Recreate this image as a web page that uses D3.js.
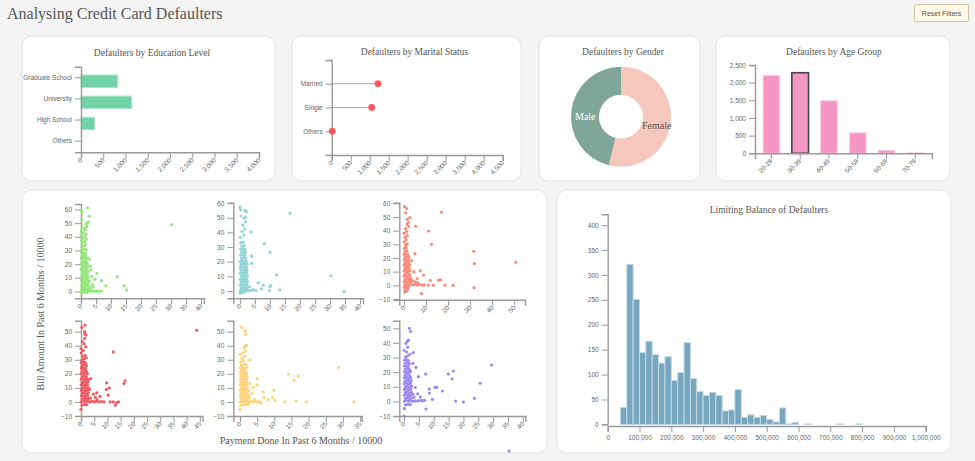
<!DOCTYPE html>
<html>
<head>
<meta charset="utf-8">
<script src="https://cdn.jsdelivr.net/npm/d3@7"></script>
<style>
  body { margin: 0; background: #f4f4f4; font-family: "Liberation Sans", Arial, sans-serif; }
  #wrap { position: relative; width: 975px; height: 461px; overflow: hidden; }
  #reset { position: absolute; left: 914px; top: 4px; width: 55px; height: 18px; padding: 0;
           background: #fffbe8; border: 1px solid #cdc4a6; border-radius: 2px;
           font: 7px "Liberation Sans", Arial, sans-serif; color: #555; }
  .axis .domain { stroke: #999; stroke-width: 1.4; }
  .axis .tick line { stroke: #999; }
  .axis text { fill: #666; font-size: 6.5px; font-family: "Liberation Sans", Arial, sans-serif; }
  .title { font-family: "Liberation Serif", "Times New Roman", serif; fill: #555; font-size: 9.5px; text-anchor: middle; }
</style>
</head>
<body>
<div id="wrap">
  <div id="chart"></div>
  <button id="reset">Reset Filters</button>
</div>
<script>
// ---- data ----
const eduLevels = ["Graduate School", "University", "High School", "Others"];
const eduCounts = [825, 1139, 308, 0];

const maritalStatus = ["Married", "Single", "Others"];
const maritalCounts = [1218, 1052, 15];

const genderLabels = ["Female", "Male"];
const genderCounts = [1226, 1046];

const ageGroups = ["20-29", "30-39", "40-49", "50-59", "60-69", "70-79"];
const ageCounts = [2208, 2282, 1489, 583, 85, 15];
const selectedAge = "30-39";

// limiting balance histogram, 20,000 wide bins
const limitBinStart = [40000, 60000, 80000, 100000, 120000, 140000, 160000, 180000, 200000, 220000,
  240000, 260000, 280000, 300000, 320000, 340000, 360000, 380000, 400000, 420000,
  440000, 460000, 480000, 500000, 520000, 540000, 560000, 580000, 600000, 620000,
  640000, 660000, 680000, 700000, 720000, 740000, 760000, 780000];
const limitCounts = [34, 321, 251, 144, 167, 140, 123, 136, 88, 104,
  164, 92, 66, 58, 64, 58, 27, 29, 70, 14,
  19, 14, 18, 10, 5, 33, 1, 4, 0, 1,
  0, 0, 0, 0, 1, 0, 0, 1];

// payment (x) vs bill amount (y), both / 10000
const scatterGreen = [[0.2,-1],[1.1,-0.6],[2,-0.9],
  [0.1,0.4],[0.7,0.9],[1.4,0.2],[2.1,0.6],[2.8,0.3],[3.5,0.5],[4.2,0.2],[5.1,0.4],[5.9,0.1],[6.8,0.3],
  [0.4,2.1],[1,2.6],[1.7,1.9],[2.3,2.4],[3.1,1.6],
  [0.2,4.2],[0.9,4.6],[1.5,3.9],[2.2,4.4],[2.9,3.6],[4,3.1],
  [0.5,6.1],[1.1,6.5],[1.8,5.8],[2.4,6.3],
  [0.1,8.2],[0.8,8.5],[1.4,7.9],[2.1,8.3],[2.8,7.4],
  [0.4,10.1],[1,10.6],[1.7,9.8],[2.3,10.4],
  [0.2,12.3],[0.8,12.6],[1.5,11.9],[2.1,12.2],
  [0.5,14.1],[1.1,14.6],[1.8,13.8],[2.4,14.4],
  [0.1,16.2],[0.8,16.5],[1.4,15.9],[2,16.3],
  [0.4,18.1],[1,18.6],[1.7,17.8],[2.3,18.4],
  [0.2,20.3],[0.9,20.6],[1.5,19.8],[2.1,20.2],
  [0.5,22.1],[1.1,22.5],[1.8,21.8],
  [0.1,24.2],[0.8,24.6],[1.4,23.9],[2.2,24.3],
  [0.4,26.1],[1,26.6],[1.6,25.8],
  [0.2,28.2],[0.9,28.5],[1.5,27.7],
  [0.3,30.1],[1.2,31],[1.7,30.4],[0.2,32.6],[1,33.5],[1.5,34.2],[0.4,35.6],[1.2,36.4],[0.1,37.6],[1.8,38.1],
  [0.6,39],[1.3,40.1],[0.2,41.2],[1.7,42],[0.8,43.1],[0.1,44.2],[1.5,45.1],[1,46.4],[1.9,47.5],[0.2,48.1],
  [1.7,49.5],[2.2,50.1],[2.5,51],[0.2,52.2],[2.7,55],[0.3,58.4],[0.1,59.1],[2.2,61.2],
  [3.3,15.7],[4.7,8.9],[5.3,13.3],[6.9,7.9],[8.3,4.2],[12.1,10.8],[14.4,4.2],[15.2,1.1],[30.2,48.9],
  [3.1,18.3],[3.8,5.2],[2.8,23.6],[3.6,11]];

const scatterTeal = [[0.1,-1.5],[0.9,-1],[1.8,-0.7],
  [0.2,0.3],[0.8,0.8],[1.5,0.1],[2.2,0.6],[2.9,0.2],[3.6,0.5],[4.4,0.7],
  [0.4,2.2],[1.1,2.6],[1.8,1.9],[2.5,2.3],
  [0.1,4.1],[0.8,4.5],[1.5,3.8],[2.2,4.3],
  [0.4,6.2],[1.1,6.6],[1.8,5.9],[2.5,6.4],
  [0.1,8.1],[0.8,8.6],[1.5,7.8],[2.2,8.3],
  [0.4,10.2],[1.1,10.5],[1.8,9.9],[2.5,10.3],
  [0.1,12.1],[0.8,12.6],[1.5,11.8],[2.2,12.4],
  [0.4,14.2],[1.1,14.5],[1.8,13.9],[2.4,14.3],
  [0.1,16.1],[0.8,16.6],[1.5,15.8],[2.2,16.2],
  [0.4,18.2],[1.1,18.5],[1.8,17.9],[2.4,18.4],
  [0.1,20.1],[0.8,20.6],[1.5,19.8],[2.1,20.2],
  [0.5,22.3],[1.2,22.7],[1.9,21.9],
  [0.2,24.4],[0.9,24.8],[1.6,24.1],
  [0.5,26.5],[1.3,26.9],[1.9,26.2],
  [0.2,28.6],[1,29],[1.7,28.3],
  [0.6,30.7],[1.4,31.2],[0.3,32.8],[1.1,33.4],
  [0.2,36.5],[1.3,38.2],[0.7,40.6],[1.6,42.3],[1,44.8],[1.9,47.2],[1.5,49.6],[1.8,50.4],[0.4,51.2],
  [0,57.3],[0.2,55.4],[1.7,55],[2.1,54.2],
  [16.7,53.2],[8.1,32.4],[10,26.5],[3.7,40.3],[3.9,23.8],[3.9,18.8],[12.2,10.9],[30.3,10.4],[34.7,-0.5],
  [13.3,0.7],[10,2.9],[7.8,3.9],[6.1,5.6],[7.2,1.5],[4.4,0.7],[2.3,5],[10.3,3.6],[5.4,0.3],[3.2,2.9],[9.8,0.2]];

const scatterSalmon = [[0.3,-4.9],[1.4,-4.2],[0.6,-3],[1.8,-2.6],
  [0.1,-1.2],[1,-0.8],[2,-1.1],
  [0.4,0.6],[1.3,1],[2.2,0.4],[3.1,0.8],[4,0.3],[5,0.6],[6,0.2],[7.1,0.5],[8.2,0.1],[9.2,0.4],
  [0.1,2.6],[1,3],[1.9,2.3],[2.8,2.7],[3.9,3.2],
  [0.5,4.6],[1.4,5.1],[2.3,4.4],[3.2,4.8],
  [0.1,6.7],[1,7.1],[1.9,6.4],[2.8,6.9],
  [0.5,8.6],[1.4,9.1],[2.3,8.4],
  [0.1,10.7],[1,11.1],[1.9,10.4],[2.7,10.8],
  [0.5,12.6],[1.4,13.1],[2.3,12.4],
  [0.1,14.7],[1,15.1],[1.9,14.4],[2.6,14.8],
  [0.5,16.6],[1.4,17.1],[2.2,16.4],
  [0.1,18.7],[1,19.1],[1.9,18.4],
  [0.5,20.6],[1.4,21.1],[2.2,20.4],
  [0.1,22.7],[1,23.1],[1.8,22.4],
  [0.5,24.6],[1.4,25.1],
  [0.2,26.8],[1.1,27.4],[0.6,29.2],[1.5,30.1],[0.2,31.8],[1,33.2],[0.5,35.1],[1.6,36.4],[0.1,38],[1.2,39.3],
  [0.7,41.5],[2.1,43],[1.4,44.6],[2,46],[2.7,49.5],[1.5,48.3],[1.2,56.1],[0.3,57.5],[0.8,53],
  [17,53.4],[11.2,39.7],[5.3,43.2],[12.5,30],[5,23.2],[50.7,16.8],[31.7,24.9],[32,15.9],[31.8,-1.7],
  [7.4,10.5],[8,-6.1],[8.9,7.5],[13.3,0],[15.7,3.7],[16.6,4.1],[18.6,0],[22.3,0],[12,3.7],[11,0.2],
  [4.5,10],[6,5],[5.2,2.5],[3.5,18],[6.3,1.8]];

const scatterRed = [[0,-5.2],[0.4,-2.3],[1.3,-1.8],[2.2,-2],
  [0.1,0.1],[0.9,0.6],[1.7,0.2],[2.5,0.5],[3.3,0.1],[4.2,0.4],[5.1,0.2],[6,0.5],[6.9,0.1],[7.8,0.3],[8.7,0.1],
  [0.4,2.1],[1.2,2.6],[2,1.9],[2.8,2.3],[3.6,2.8],
  [0.1,4.2],[0.9,4.6],[1.7,3.9],[2.5,4.3],
  [0.4,6.1],[1.2,6.5],[2,5.8],[2.8,6.3],
  [0.1,8.2],[0.9,8.6],[1.7,7.9],[2.5,8.3],
  [0.4,10.1],[1.2,10.6],[2,9.8],[2.7,10.2],
  [0.1,12.2],[0.9,12.5],[1.7,11.9],[2.4,12.3],
  [0.4,14.1],[1.2,14.6],[2,13.8],[2.6,14.2],
  [0.1,16.2],[0.9,16.5],[1.7,15.9],[2.4,16.3],
  [0.4,18.1],[1.2,18.6],[2,17.8],
  [0.1,20.2],[0.9,20.5],[1.7,19.9],[2.4,20.3],
  [0.4,22.1],[1.2,22.6],[2,21.8],
  [0.1,24.2],[0.9,24.5],[1.7,23.9],
  [0.4,26.1],[1.2,26.6],[2,25.8],
  [0.1,28.2],[0.9,28.5],[1.7,27.9],
  [0.4,30.1],[1.3,30.8],[2,31.4],[0.6,32.5],[1.5,33.2],[0.1,34.8],[0.9,36.6],[0,38],[1.8,39.2],[1.2,41.3],
  [0.5,43],[1.4,45.2],[1.9,47.6],[1.5,48.2],[1.4,50],[0.3,53],[1.5,54.6],
  [43.8,51],[12.2,35.6],[16.7,15],[16.3,13.1],[9.7,13.5],[9.6,9],[10.7,10],[10.3,4.8],[3.7,16.6],[2.8,15.8],
  [4.7,5.5],[6,6.5],[7.2,4],[6.1,1.6],[11,0],[12.2,0],[13,-2.4],[13.5,-0.5],[14.2,0],[3.3,8.9],[5.4,3.2]];

const scatterYellow = [[0,-5.4],[0.3,-2.4],[1,-1.8],[1.7,-2.1],[2.4,-1.5],
  [0.1,0.1],[0.7,0.6],[1.3,0.2],[1.9,0.5],[2.5,0.1],[3.2,0.4],[3.9,0.2],[4.6,0.5],[5.4,0],[6.2,-0.7],[7,3.1],
  [0.3,2.1],[0.9,2.6],[1.5,1.9],[2.1,2.3],[2.8,2.8],
  [0.1,4.2],[0.7,4.6],[1.3,3.9],[1.9,4.3],[2.5,4.7],
  [0.3,6.1],[0.9,6.5],[1.5,5.8],[2.1,6.3],
  [0.1,8.2],[0.7,8.6],[1.3,7.9],[1.9,8.3],[2.5,8],
  [0.3,10.1],[0.9,10.6],[1.5,9.8],[2.1,10.2],
  [0.1,12.2],[0.7,12.5],[1.3,11.9],[1.9,12.3],
  [0.3,14.1],[0.9,14.6],[1.5,13.8],[2.1,14.2],
  [0.1,16.2],[0.7,16.5],[1.3,15.9],[1.9,16.3],
  [0.3,18.1],[0.9,18.6],[1.5,17.8],[2.1,18.2],
  [0.1,20.2],[0.7,20.5],[1.3,19.9],[1.9,20.3],
  [0.3,22.1],[0.9,22.6],[1.5,21.8],
  [0.1,24.2],[0.7,24.5],[1.3,23.9],[1.9,24.6],
  [0.4,26.3],[1.1,27],[1.7,26.5],[0.2,28.6],[1,29.3],[2.9,29.7],[0.6,31],[1.4,32.4],[0.1,33.8],[0.9,35],
  [1.6,36.2],[1.2,38.4],[1.9,40.3],[1.5,39.6],[1.6,48.1],[1.5,50.5],[0.5,53],
  [2.9,13],[5,16.6],[5,11.9],[3.8,10.2],[6.8,7.1],[9.9,8.3],[9.5,3.1],[14.1,19.7],[17,18.3],[15.8,15.4],
  [28.7,24.5],[33.2,0],[19.4,0],[16.3,0.7],[13.1,0],[10.2,1.2],[8.3,1.7],[3.5,6],[4.2,1.8]];

const scatterPurple = [[0,-10],[0.1,-5],[0.5,-2.4],[1.3,-1.9],[2.1,-2.2],
  [0.1,0.1],[0.8,0.6],[1.5,0.2],[2.2,0.5],[2.9,0.1],[3.7,0.4],[4.5,0.2],[5.3,0.6],[6.1,0.3],[6.9,0.7],
  [0.4,2.1],[1.1,2.6],[1.8,1.9],[2.5,2.3],[3.3,2.8],
  [0.1,4.2],[0.8,4.6],[1.5,3.9],[2.2,4.3],[3,4.8],
  [0.4,6.1],[1.1,6.5],[1.8,5.8],[2.5,6.3],
  [0.1,8.2],[0.8,8.6],[1.5,7.9],[2.2,8.3],
  [0.4,10.1],[1.1,10.6],[1.8,9.8],[2.5,10.2],
  [0.1,12.2],[0.8,12.5],[1.5,11.9],[2.2,12.3],
  [0.4,14.1],[1.1,14.6],[1.8,13.8],[2.4,14.2],
  [0.1,16.2],[0.8,16.5],[1.5,15.9],[2.2,16.3],
  [0.4,18.1],[1.1,18.6],[1.8,17.8],
  [0.1,20.2],[0.8,20.5],[1.5,19.9],[2.2,20.3],
  [0.4,22.1],[1.1,22.6],[1.8,21.8],
  [0.1,24.2],[0.8,24.5],[1.5,23.9],
  [0.4,26.1],[1.1,26.6],[1.8,25.8],
  [0.1,28.2],[0.8,28.5],[1.5,27.9],
  [0.5,30.3],[1.3,31.2],[2,32.4],[0,35],[0.9,33.8],[3.1,33.3],[1.2,37.1],[0.6,39.6],[1.5,42],[1.1,41],[2.2,47.8],[1.8,50],
  [4.8,16.9],[3,26],[4,23.3],[7.3,18.7],[14.9,18.7],[16.6,20.8],[16.2,15.3],[8.5,8.5],[10.4,9.6],[11,9.6],
  [12.9,7.1],[8.5,5.7],[9.5,1.4],[17.4,0.2],[20,-0.5],[23.7,2.1],[25.6,12.4],[29.5,24.9],[7.4,-5.2],[6,0.7],
  [4.6,5.2],[5.5,3],[3.8,9.5],[35.4,-34]];

const scatterSets = [scatterGreen, scatterTeal, scatterSalmon, scatterRed, scatterYellow, scatterPurple];
const scatterColors = ["#95e77e", "#8fd4d6", "#f98b7a", "#ee5b64", "#ffd37c", "#9c89ee"];

// ---- page ----
const svg = d3.select("#chart").append("svg")
  .attr("width", 975).attr("height", 461);

svg.append("text")
  .attr("x", 7).attr("y", 19)
  .style("font-family", "'Liberation Serif', 'Times New Roman', serif")
  .style("font-size", "16px").style("fill", "#555")
  .text("Analysing Credit Card Defaulters");

// card boxes
const cards = [[22, 36, 253, 145], [292, 36, 229, 145], [539, 36, 161, 145], [716, 36, 234, 145],
               [22, 190, 525, 263], [557, 190, 394, 263]];
svg.selectAll("rect.card").data(cards).enter().append("rect")
  .attr("class", "card")
  .attr("x", d => d[0]).attr("y", d => d[1])
  .attr("width", d => d[2]).attr("height", d => d[3])
  .attr("rx", 10)
  .style("fill", "#fff").style("stroke", "#e2e2e2");

function rotateLabels(g) {
  g.selectAll(".tick text")
    .attr("text-anchor", "end")
    .attr("x", -5).attr("y", 5).attr("dy", "0.3em")
    .attr("transform", "rotate(-45)");
}

// ---- education level: horizontal bars ----
{
  const g = svg.append("g");
  g.append("text").attr("class", "title").attr("x", 152).attr("y", 55.5).text("Defaulters by Education Level");

  const x = d3.scaleLinear().domain([0, 4000]).range([81, 259]);
  const y = d3.scaleBand().domain(eduLevels).range([66.7, 152.3]).padding(0.05);

  g.selectAll("rect").data(eduLevels).enter().append("rect")
    .attr("x", x(0))
    .attr("y", d => y(d) + y.bandwidth() * 0.36)
    .attr("height", y.bandwidth() * 0.62)
    .attr("width", (d, i) => x(eduCounts[i]) - x(0))
    .style("fill", "#72d3aa").style("stroke", "#a9e6cb");

  g.append("g").attr("class", "axis").attr("transform", "translate(81,0)").call(d3.axisLeft(y));
  g.append("g").attr("class", "axis").attr("transform", "translate(0,152.3)")
    .call(d3.axisBottom(x).ticks(8)).call(rotateLabels);
}

// ---- marital status: lollipop ----
{
  const g = svg.append("g");
  g.append("text").attr("class", "title").attr("x", 414.5).attr("y", 55).text("Defaulters by Marital Status");

  const x = d3.scaleLinear().domain([0, 4500]).range([331.7, 502.7]);
  const y = d3.scalePoint().domain(maritalStatus).range([60, 155]).padding(1);

  g.selectAll("line.stem").data(maritalStatus).enter().append("line")
    .attr("class", "stem")
    .attr("x1", x(0)).attr("x2", (d, i) => x(maritalCounts[i]))
    .attr("y1", d => y(d)).attr("y2", d => y(d))
    .style("stroke", "#aaa");

  g.append("g").attr("class", "axis").attr("transform", "translate(331.7,0)").call(d3.axisLeft(y));
  g.append("g").attr("class", "axis").attr("transform", "translate(0,155)")
    .call(d3.axisBottom(x).ticks(10)).call(rotateLabels);

  g.selectAll("circle").data(maritalStatus).enter().append("circle")
    .attr("cx", (d, i) => x(maritalCounts[i]))
    .attr("cy", d => y(d))
    .attr("r", 3.4)
    .style("fill", "#ff5a60");
}

// ---- gender: donut ----
{
  const g = svg.append("g").attr("transform", "translate(621,116.7)");
  svg.append("text").attr("class", "title").attr("x", 623).attr("y", 55).text("Defaulters by Gender");

  const color = d3.scaleOrdinal().domain(genderLabels).range(["#f5c7bd", "#80a69a"]);
  const pie = d3.pie().sort(null).value((d, i) => genderCounts[i]);
  const arc = d3.arc().innerRadius(22).outerRadius(50);
  const arcs = pie(genderLabels);

  g.selectAll("path").data(arcs).enter().append("path")
    .attr("d", arc)
    .style("fill", d => color(d.data));

  g.selectAll("text").data(arcs).enter().append("text")
    .attr("transform", d => "translate(" + arc.centroid(d) + ")")
    .attr("dy", "0.8em")
    .attr("text-anchor", "middle")
    .style("font-family", "'Liberation Serif', 'Times New Roman', serif")
    .style("font-size", "10px")
    .style("fill", d => d.data === "Male" ? "#fff" : "#555")
    .text(d => d.data);
}

// ---- age group: vertical bars ----
{
  const g = svg.append("g");
  g.append("text").attr("class", "title").attr("x", 834).attr("y", 55).text("Defaulters by Age Group");

  const x = d3.scaleBand().domain(ageGroups).range([755, 931.7]).paddingInner(0.42).paddingOuter(0.28);
  const y = d3.scaleLinear().domain([0, 2500]).range([153.3, 65]);

  g.selectAll("rect").data(ageGroups).enter().append("rect")
    .attr("x", d => x(d))
    .attr("width", x.bandwidth())
    .attr("y", (d, i) => y(ageCounts[i]))
    .attr("height", (d, i) => y(0) - y(ageCounts[i]))
    .style("fill", "#f596c4")
    .style("stroke", d => d === selectedAge ? "#444" : "#fbd3e6")
    .style("stroke-width", d => d === selectedAge ? 1.6 : 1);

  g.append("g").attr("class", "axis").attr("transform", "translate(755,0)").call(d3.axisLeft(y).ticks(5));
  g.append("g").attr("class", "axis").attr("transform", "translate(0,153.3)")
    .call(d3.axisBottom(x)).call(rotateLabels);
}

// ---- bill amount vs payment: six small scatter plots ----
{
  const frames = [
    { xr: [81, 204],      xd: [0, 41],        yr: [298.3, 204],   yd: [-5, 64],       xt: 10 },
    { xr: [233.3, 363],   xd: [-2.2, 41],     yr: [298.3, 202.7], yd: [-5, 60.3],     xt: 10 },
    { xr: [399.3, 525],   xd: [-2.1, 54.9],   yr: [299.7, 202.7], yd: [-10.5, 60.4],  xt: 6 },
    { xr: [81, 202.5],    xd: [0, 46],        yr: [416, 320.7],   yd: [-10, 57.8],    xt: 10 },
    { xr: [233.3, 361.8], xd: [-1.95, 35.5],  yr: [416, 320.7],   yd: [-10, 57.8],    xt: 10 },
    { xr: [399.3, 525.5], xd: [-1.6, 40.9],   yr: [416, 320.7],   yd: [-10, 55.2],    xt: 10 }
  ];

  frames.forEach((f, i) => {
    const g = svg.append("g");
    const x = d3.scaleLinear().domain(f.xd).range(f.xr);
    const y = d3.scaleLinear().domain(f.yd).range(f.yr);

    g.append("g").attr("class", "axis").attr("transform", "translate(0," + f.yr[0] + ")")
      .call(d3.axisBottom(x).ticks(f.xt)).call(rotateLabels);
    g.append("g").attr("class", "axis").attr("transform", "translate(" + f.xr[0] + ",0)")
      .call(d3.axisLeft(y).ticks(7));

    g.selectAll("circle").data(scatterSets[i]).enter().append("circle")
      .attr("cx", d => x(d[0]))
      .attr("cy", d => y(d[1]))
      .attr("r", 1.6)
      .style("fill", scatterColors[i]);
  });

  svg.append("text")
    .attr("transform", "translate(44,314) rotate(-90)")
    .attr("text-anchor", "middle")
    .style("font-family", "'Liberation Serif', 'Times New Roman', serif")
    .style("font-size", "10px").style("fill", "#555")
    .text("Bill Amount In Past 6 Months / 10000");

  svg.append("text")
    .attr("x", 301).attr("y", 444)
    .attr("text-anchor", "middle")
    .style("font-family", "'Liberation Serif', 'Times New Roman', serif")
    .style("font-size", "10px").style("fill", "#555")
    .text("Payment Done In Past 6 Months / 10000");
}

// ---- limiting balance histogram ----
{
  const g = svg.append("g");
  g.append("text").attr("class", "title").attr("x", 769).attr("y", 212.5).text("Limiting Balance of Defaulters");

  const binWidth = 20000;
  const x = d3.scaleLinear().domain([0, 1000000]).range([607.7, 925.7]);
  const y = d3.scaleLinear().domain([0, 421.7]).range([424.4, 214.3]);

  const bins = limitBinStart.map((s, i) => ({ x0: s, x1: s + binWidth, n: limitCounts[i] }))
    .filter(d => d.n > 0);

  g.selectAll("rect").data(bins).enter().append("rect")
    .attr("x", d => x(d.x0))
    .attr("width", d => x(d.x1) - x(d.x0))
    .attr("y", d => y(d.n))
    .attr("height", d => y(0) - y(d.n))
    .style("fill", "#77a6bf")
    .style("stroke", "#c3d9e6");

  g.append("g").attr("class", "axis").attr("transform", "translate(607.7,0)").call(d3.axisLeft(y).ticks(8));
  g.append("g").attr("class", "axis").attr("transform", "translate(0,426)").call(d3.axisBottom(x).ticks(10));
}
</script>
</body>
</html>
